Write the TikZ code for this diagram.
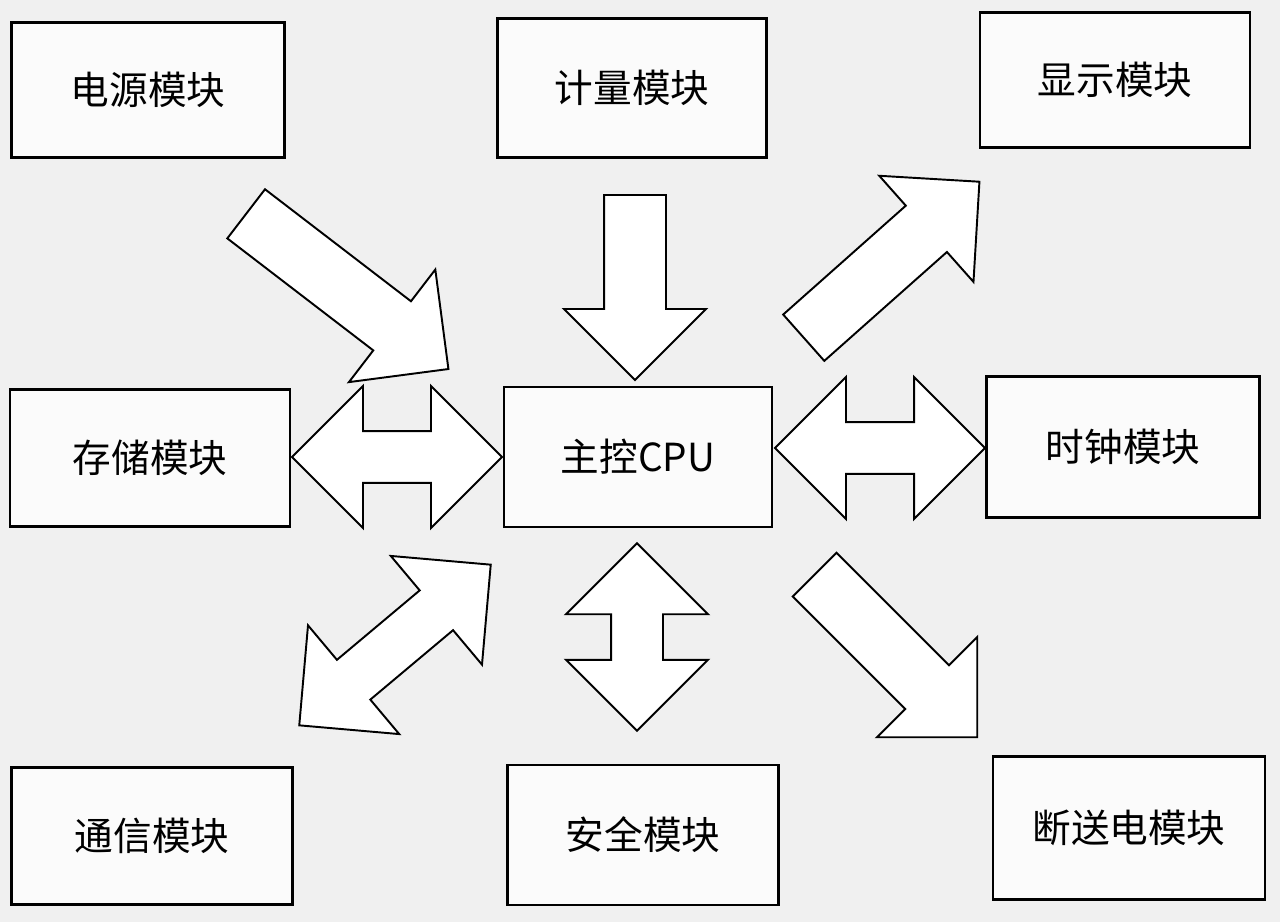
\documentclass[tikz,border=0pt]{standalone}
\usepackage{fontspec}
\setmainfont{Noto Sans CJK SC}
\usetikzlibrary{positioning, shapes.arrows}
\tikzset{
    %Define style for boxes
    modbox/.style={
           rectangle,
           draw=black, line width=1.6pt,
           fill=white!60!black!4,
           font=\fontsize{22}{26}\selectfont},
    %
    % Define block arrow styles
    onearrow/.style={
           single arrow, draw=black, line width=1.1pt,
           fill=white, inner sep=0pt, inner ysep=0.6cm,
           single arrow head extend=0.8cm},
    twoarrow/.style={
           double arrow, draw=black, line width=1.1pt,
           fill=white, inner sep=0pt, inner ysep=0.5cm,
           double arrow head extend=0.9cm}
}
\begin{document}
\begin{tikzpicture}[x=0.02cm,y=-0.02cm]
  \useasboundingbox[fill=black!6] (0,0) rectangle (1280,922);
  % module boxes
  \node[modbox, minimum width=5.46cm, minimum height=2.7cm] (power) at (148,90) {电源模块};
  \node[modbox, minimum width=5.38cm, minimum height=2.78cm] (meter) at (632,88) {计量模块};
  \node[modbox, minimum width=5.4cm, minimum height=2.7cm] (disp) at (1115,80) {显示模块};
  \node[modbox, minimum width=5.6cm, minimum height=2.74cm] (store) at (150,458) {存储模块};
  \node[modbox, minimum width=5.36cm, minimum height=2.8cm] (cpu) at (638,457) {主控CPU};
  \node[modbox, minimum width=5.46cm, minimum height=2.82cm] (clock) at (1123,447) {时钟模块};
  \node[modbox, minimum width=5.62cm, minimum height=2.74cm] (comm) at (152,836) {通信模块};
  \node[modbox, minimum width=5.42cm, minimum height=2.8cm] (safe) at (643,835) {安全模块};
  \node[modbox, minimum width=5.44cm, minimum height=2.86cm] (relay) at (1129,828) {断送电模块};
  % block arrows
  \node[onearrow, minimum height=5.1cm, rotate=-37.5] (a1) at (335,282) {};
  \node[onearrow, minimum height=3.7cm, rotate=-90] (a2) at (635,272) {};
  \node[onearrow, minimum height=4.7cm, rotate=41.6] (a3) at (880,270) {};
  \node[twoarrow, minimum height=4.2cm] (a4) at (397,457) {};
  \node[twoarrow, minimum height=4.2cm] (a5) at (880,448) {};
  \node[twoarrow, minimum height=5cm, rotate=40] (a6) at (395,645) {};
  \node[twoarrow, minimum height=3.75cm, rotate=90] (a7) at (637,637) {};
  \node[onearrow, minimum height=4.6cm, rotate=-45] (a8) at (885,645) {};
\end{tikzpicture}
\end{document}
